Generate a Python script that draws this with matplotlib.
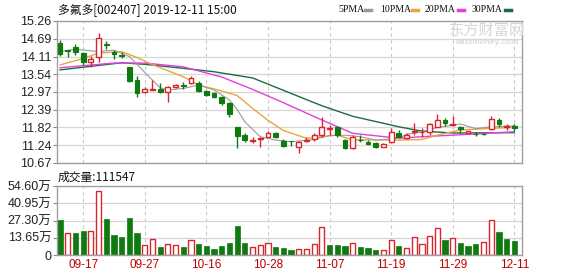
import matplotlib
matplotlib.use('Agg')
import matplotlib.pyplot as plt
import numpy as np

# ---------------- data ----------------
dates = ['09-17', '09-27', '10-16', '10-28', '11-07', '11-19', '11-29', '12-11']
date_idx = [4, 12, 20, 28, 36, 44, 52, 60]

opens = [14.56, 14.31, 14.43, 14.22, 13.95, 14.11, 14.52, 14.25, 14.17, 13.76,
         13.35, 12.97, 13.04, 13.06, 12.98, 13.14, 13.20, 13.25, 13.27, 13.01,
         12.92, 12.81, 12.60, 11.82, 11.57, 11.39, 11.45, 11.52, 11.65, 11.39,
         11.38, 11.18, 11.39, 11.44, 11.58, 11.77, 11.84, 11.41, 11.15, 11.42,
         11.35, 11.31, 11.20, 11.36, 11.65, 11.47, 11.68, 11.66, 11.68, 11.84,
         12.06, 11.89, 11.82, 11.63, 11.61, 11.62, 11.76, 12.06, 11.83, 11.87]
highs = [14.65, 14.31, 14.53, 14.27, 14.13, 14.86, 14.61, 14.32, 14.25, 13.78,
         13.48, 13.14, 13.35, 13.25, 13.16, 13.23, 13.29, 13.48, 13.33, 13.03,
         12.95, 12.84, 12.65, 11.84, 11.63, 11.50, 11.52, 11.70, 11.67, 11.44,
         11.38, 11.37, 11.50, 11.63, 12.17, 11.90, 11.86, 11.43, 11.56, 11.57,
         11.42, 11.36, 11.33, 11.79, 11.74, 11.65, 11.95, 11.79, 11.97, 12.25,
         12.13, 12.20, 11.86, 11.72, 11.66, 11.64, 12.19, 12.11, 11.93, 11.93]
lows = [14.14, 14.09, 14.16, 13.84, 13.76, 13.95, 14.35, 14.02, 14.05, 13.30,
        12.81, 12.92, 13.03, 12.94, 12.65, 13.10, 13.06, 13.22, 12.98, 12.84,
        12.76, 12.55, 12.17, 11.15, 11.36, 11.31, 11.20, 11.50, 11.47, 11.20,
        11.22, 11.00, 11.34, 11.39, 11.52, 11.58, 11.52, 11.13, 11.13, 11.36,
        11.25, 11.16, 11.18, 11.31, 11.50, 11.44, 11.58, 11.52, 11.58, 11.82,
        11.87, 11.85, 11.65, 11.60, 11.55, 11.58, 11.74, 11.84, 11.74, 11.72]
closes = [14.18, 14.30, 14.25, 13.94, 14.03, 14.70, 14.47, 14.19, 14.13, 13.33,
          12.94, 13.05, 13.06, 12.95, 13.12, 13.19, 13.16, 13.41, 13.01, 12.86,
          12.79, 12.60, 12.25, 11.54, 11.41, 11.40, 11.47, 11.65, 11.50, 11.22,
          11.37, 11.35, 11.41, 11.58, 11.84, 11.79, 11.58, 11.15, 11.52, 11.40,
          11.29, 11.20, 11.29, 11.68, 11.52, 11.57, 11.71, 11.68, 11.92, 12.06,
          11.95, 11.93, 11.78, 11.70, 11.60, 11.60, 12.08, 11.93, 11.87, 11.79]

# volume in 万, and whether the bar is drawn red (hollow)
volume = [27.7, 17.6, 17.6, 19.2, 19.0, 50.6, 28.5, 16.1, 14.2, 29.3,
          17.6, 7.9, 12.4, 6.3, 8.7, 7.9, 6.6, 11.9, 8.9, 7.4,
          4.5, 7.1, 9.8, 23.2, 9.8, 6.3, 8.2, 9.5, 6.3, 5.5,
          4.2, 4.7, 4.7, 8.7, 21.9, 8.2, 8.2, 7.4, 9.5, 6.3,
          5.8, 4.2, 3.7, 11.6, 7.1, 5.3, 14.0, 8.7, 14.8, 21.1,
          11.9, 13.2, 9.5, 7.1, 8.7, 10.0, 27.4, 18.2, 12.7, 11.15]
vol_red = [0, 1, 0, 0, 1, 1, 0, 0, 0, 0, 0, 1, 1, 0, 1, 1, 0, 1, 0, 0,
           0, 0, 0, 0, 0, 1, 1, 1, 0, 0, 0, 1, 1, 1, 1, 0, 0, 0, 1, 0,
           0, 0, 1, 1, 0, 1, 1, 1, 1, 1, 0, 1, 0, 0, 0, 1, 1, 0, 0, 0]

ma5_idx = [1, 3, 6, 8, 10, 12, 14, 15, 17, 19, 21, 23, 24, 25, 27, 29, 31, 34, 36, 38,
           40, 42, 45, 46, 48, 50, 53, 55, 57, 60]
ma5 = [14.27, 14.35, 14.27, 14.32, 14.11, 13.60, 13.10, 13.03, 13.08, 13.19, 13.03, 12.71,
       12.40, 12.00, 11.52, 11.41, 11.36, 11.43, 11.56, 11.57, 11.52, 11.41, 11.47, 11.60,
       11.68, 11.82, 11.93, 11.78, 11.84, 11.87]
ma10_idx = [1, 4, 6, 9, 11, 13, 17, 19, 22, 24, 26, 28, 30, 33, 35, 37, 39, 45, 48, 50,
            53, 55, 57, 60]
ma10 = [13.84, 14.05, 14.22, 14.27, 14.08, 13.85, 13.46, 13.19, 13.00, 12.85, 12.44, 12.05,
        11.72, 11.47, 11.52, 11.57, 11.42, 11.41, 11.43, 11.57, 11.74, 11.76, 11.79, 11.82]
ma20_idx = [1, 8, 12, 17, 20, 22, 26, 30, 35, 39, 45, 48, 52, 60]
ma20 = [13.75, 13.90, 13.90, 13.78, 13.58, 13.45, 13.05, 12.62, 12.06, 11.63, 11.47, 11.52,
        11.57, 11.68]
ma30_idx = [1, 9, 12, 17, 21, 26, 30, 35, 39, 45, 48, 52, 60]
ma30 = [13.68, 13.91, 13.86, 13.73, 13.62, 13.42, 13.02, 12.52, 12.18, 11.84, 11.70, 11.64,
        11.65]

price_ticks = [10.67, 11.24, 11.82, 12.39, 12.97, 13.54, 14.11, 14.69, 15.26]
vol_ticks = [0, 13.65, 27.30, 40.95, 54.60]

# ---------------- styles ----------------
RED = '#d9252b'
GREEN = '#0f7a0f'
FRAME = '#a0a0a0'
GRID = '#d6d6d6'
c5, c10, c20, c30 = '#9a9a9a', '#e8a63c', '#e23fe0', '#1d6b3e'
W, H = 578, 276

def fx(px):
    return px / W

def fy(py):
    return 1 - py / H

plt.rcParams['font.family'] = ['Liberation Sans', 'Noto Sans CJK SC']

fig = plt.figure(figsize=(W / 100, H / 100), dpi=100)
ax = fig.add_axes([fx(57), fy(163), (522 - 57) / W, (163 - 21) / H])
ax2 = fig.add_axes([fx(57), fy(255), (522 - 57) / W, (255 - 186) / H])

x = np.arange(1, len(closes) + 1)
o = np.array(opens)
c = np.array(closes)
up = c >= o

# ---------------- price panel ----------------
ax.vlines(x, lows, highs, colors=np.where(up, RED, GREEN), lw=1, zorder=3)
body_lo = np.minimum(o, c)
body_h = np.maximum(np.abs(c - o), 0.012)
ax.bar(x[up], body_h[up], bottom=body_lo[up], width=0.62, facecolor='white',
       edgecolor=RED, lw=1, zorder=4)
ax.bar(x[~up], body_h[~up], bottom=body_lo[~up], width=0.62, facecolor=GREEN,
       edgecolor=GREEN, lw=0.8, zorder=4)

ax.plot(ma30_idx, ma30, color=c30, lw=1, zorder=2)
ax.plot(ma20_idx, ma20, color=c20, lw=1, zorder=2)
ax.plot(ma10_idx, ma10, color=c10, lw=1, zorder=2)
ax.plot(ma5_idx, ma5, color=c5, lw=0.8, zorder=2)

ax.set_xlim(0.6, 61)
ax.set_ylim(price_ticks[0], price_ticks[-1])
ax.set_yticks(price_ticks)
ax.set_yticklabels(['%.2f' % v for v in price_ticks])
ax.set_xticks(date_idx)
ax.set_xticklabels([])

for a in (ax, ax2):
    a.tick_params(axis='y', length=3, width=0.8, color='#888888', labelsize=9,
                  labelcolor='#222222', pad=1)
    a.tick_params(axis='x', length=0)
    for s in a.spines.values():
        s.set_color(FRAME)
        s.set_linewidth(1)
    a.grid(axis='y', color=GRID, lw=0.9, ls='-')
    a.grid(axis='x', color='#c8c8c8', lw=0.8, ls=(0, (3, 3)))
    a.set_axisbelow(True)

# ---------------- volume panel ----------------
vr = np.array(vol_red).astype(bool)
v = np.array(volume)
ax2.bar(x[vr], v[vr], width=0.68, facecolor='white', edgecolor=RED, lw=1)
ax2.bar(x[~vr], v[~vr], width=0.68, facecolor=GREEN, edgecolor=GREEN, lw=0.5)
ax2.set_xlim(0.6, 61)
ax2.set_ylim(0, vol_ticks[-1])
ax2.set_yticks(vol_ticks)
ax2.set_yticklabels(['0'] + ['%.2f万' % t for t in vol_ticks[1:]])
ax2.set_xticks(date_idx)
ax2.set_xticklabels(dates, color='#c00000', fontsize=8.5)
ax2.tick_params(axis='x', pad=3)

# ---------------- texts ----------------
fig.text(fx(58), fy(10), '多氟多[002407] 2019-12-11 15:00', fontsize=8.5,
         va='center', ha='left', color='#111111',
         family=['Noto Sans CJK SC', 'DejaVu Sans'])
fig.text(fx(58), fy(177), '成交量:111547', fontsize=8.5, va='center', ha='left',
         color='#111111', family=['Noto Sans CJK SC', 'DejaVu Sans'])

legend = [('5PMA', 338, 365, c5), ('10PMA', 380, 412, c10),
          ('20PMA', 425, 458, c20), ('30PMA', 472, 505, c30)]
for name, tx, dx, col in legend:
    fig.text(fx(tx), fy(10), name, fontsize=7, va='center', ha='left',
             family='Liberation Serif', color='#111111')
    fig.add_artist(plt.Line2D([fx(dx), fx(dx + 6)], [fy(10), fy(10)],
                              color=col, lw=2.5, transform=fig.transFigure))

# watermark
fig.text(fx(487), fy(30), '东方财富网', fontsize=11, ha='center', va='center',
         color='#d6d6d6', family=['Noto Sans CJK SC'], zorder=0)
fig.text(fx(487), fy(43), 'eastmoney.com', fontsize=6, ha='center', va='center',
         color='#dadada', weight='bold', zorder=0)

fig.savefig('out.png', dpi=100, facecolor='white')
